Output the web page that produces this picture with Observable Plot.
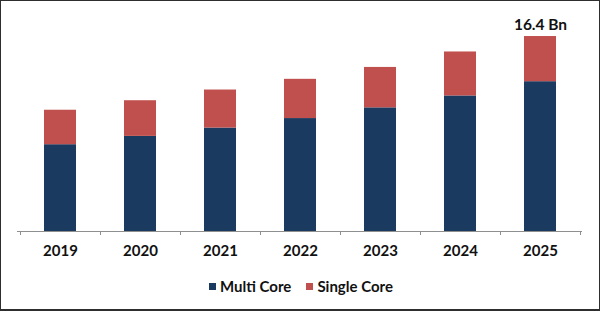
<!DOCTYPE html>
<html>
<head>
<meta charset="utf-8">
<script src="https://cdn.jsdelivr.net/npm/d3@7"></script>
<script src="https://cdn.jsdelivr.net/npm/@observablehq/plot@0.6"></script>
<style>
  html, body { margin: 0; padding: 0; background: #fff; }
  #frame { position: relative; width: 600px; height: 311px; overflow: hidden; background: #fff;
           font-family: Lato, "Liberation Sans", Arial, sans-serif; }
  #frame .border { position: absolute; inset: 0; border: 1px solid #2e2e2e; border-bottom-width: 2px; pointer-events: none; }
  #chart { position: absolute; left: 0; top: 0; }
  #legend { position: absolute; left: 0; top: 277px; width: 600px; height: 18px;
            display: flex; justify-content: center; align-items: center; gap: 15px;
            font-size: 15px; font-weight: 700; color: #111; padding-left: 2px; box-sizing: border-box; }
  #legend .item { display: flex; align-items: center; gap: 4px; }
  #legend .swatch { width: 7px; height: 7px; display: inline-block; }
</style>
</head>
<body>
<div id="frame">
  <div id="chart"></div>
  <div id="legend"></div>
  <div class="border"></div>
</div>
<script>
// Market size by processor type, billions
const years = ["2019", "2020", "2021", "2022", "2023", "2024", "2025"];
const multiCore = [7.3, 8.0, 8.7, 9.5, 10.4, 11.4, 12.6];
const singleCore = [2.9, 3.0, 3.2, 3.3, 3.4, 3.7, 3.8];
const segments = ["Multi Core", "Single Core"];
const segmentColors = ["#1b3a5f", "#c0504d"];
const labelledYears = ["2025"];

// Long table: Multi Core rows first so they sit at the bottom of each stack
const rows = [
  ...years.map((year, i) => ({year, segment: segments[0], value: multiCore[i]})),
  ...years.map((year, i) => ({year, segment: segments[1], value: singleCore[i]}))
];
const totals = years.map((year, i) => ({year, total: +(multiCore[i] + singleCore[i]).toFixed(1)}));
const labelled = totals.filter(d => labelledYears.includes(d.year));

// Small ticks below the baseline at the edges of each category band
function bandEdgeTicks(index, scales, values, dimensions) {
  const x = scales.x, y = scales.y;
  const step = x.step ? x.step() : (dimensions.width - dimensions.marginLeft - dimensions.marginRight) / years.length;
  const bw = x.bandwidth ? x.bandwidth() : 0;
  const edges = years.map(d => x(d) - (step - bw) / 2);
  edges.push(edges[edges.length - 1] + step);
  const y0 = y(0);
  const g = d3.create("svg:g").attr("stroke", "#8f8f8f").attr("stroke-width", 1);
  for (const e of edges) {
    g.append("line")
      .attr("x1", Math.round(e) + 0.5).attr("x2", Math.round(e) + 0.5)
      .attr("y1", y0).attr("y2", y0 + 4);
  }
  return g.node();
}

const chart = Plot.plot({
  width: 600,
  height: 268,
  marginLeft: 17,
  marginRight: 18,
  marginTop: 17,
  marginBottom: 37,
  style: {fontFamily: "Lato, 'Liberation Sans', Arial, sans-serif", fontSize: "15px", color: "#111", background: "transparent"},
  x: {domain: years, paddingInner: 0.6, paddingOuter: 0.3, label: null},
  y: {domain: [0, 18], axis: null},
  color: {domain: segments, range: segmentColors},
  marks: [
    Plot.barY(rows, {x: "year", y: "value", fill: "segment"}),
    Plot.ruleY([0], {stroke: "#8f8f8f", strokeWidth: 1}),
    bandEdgeTicks,
    Plot.axisX({tickSize: 0, tickPadding: 14, fontSize: 15, fontWeight: "bold", fill: "#111"}),
    Plot.text(labelled, {x: "year", y: "total", text: d => `${d3.format(".1f")(d.total)} Bn`,
      dy: -11, fontSize: 15.5, fontWeight: "bold", fill: "#111"})
  ]
});
document.getElementById("chart").appendChild(chart);

// Legend below the plot
const legend = d3.select("#legend");
segments.forEach((s, i) => {
  const item = legend.append("div").attr("class", "item");
  item.append("span").attr("class", "swatch").style("background", segmentColors[i]);
  item.append("span").text(s);
});
</script>
</body>
</html>
